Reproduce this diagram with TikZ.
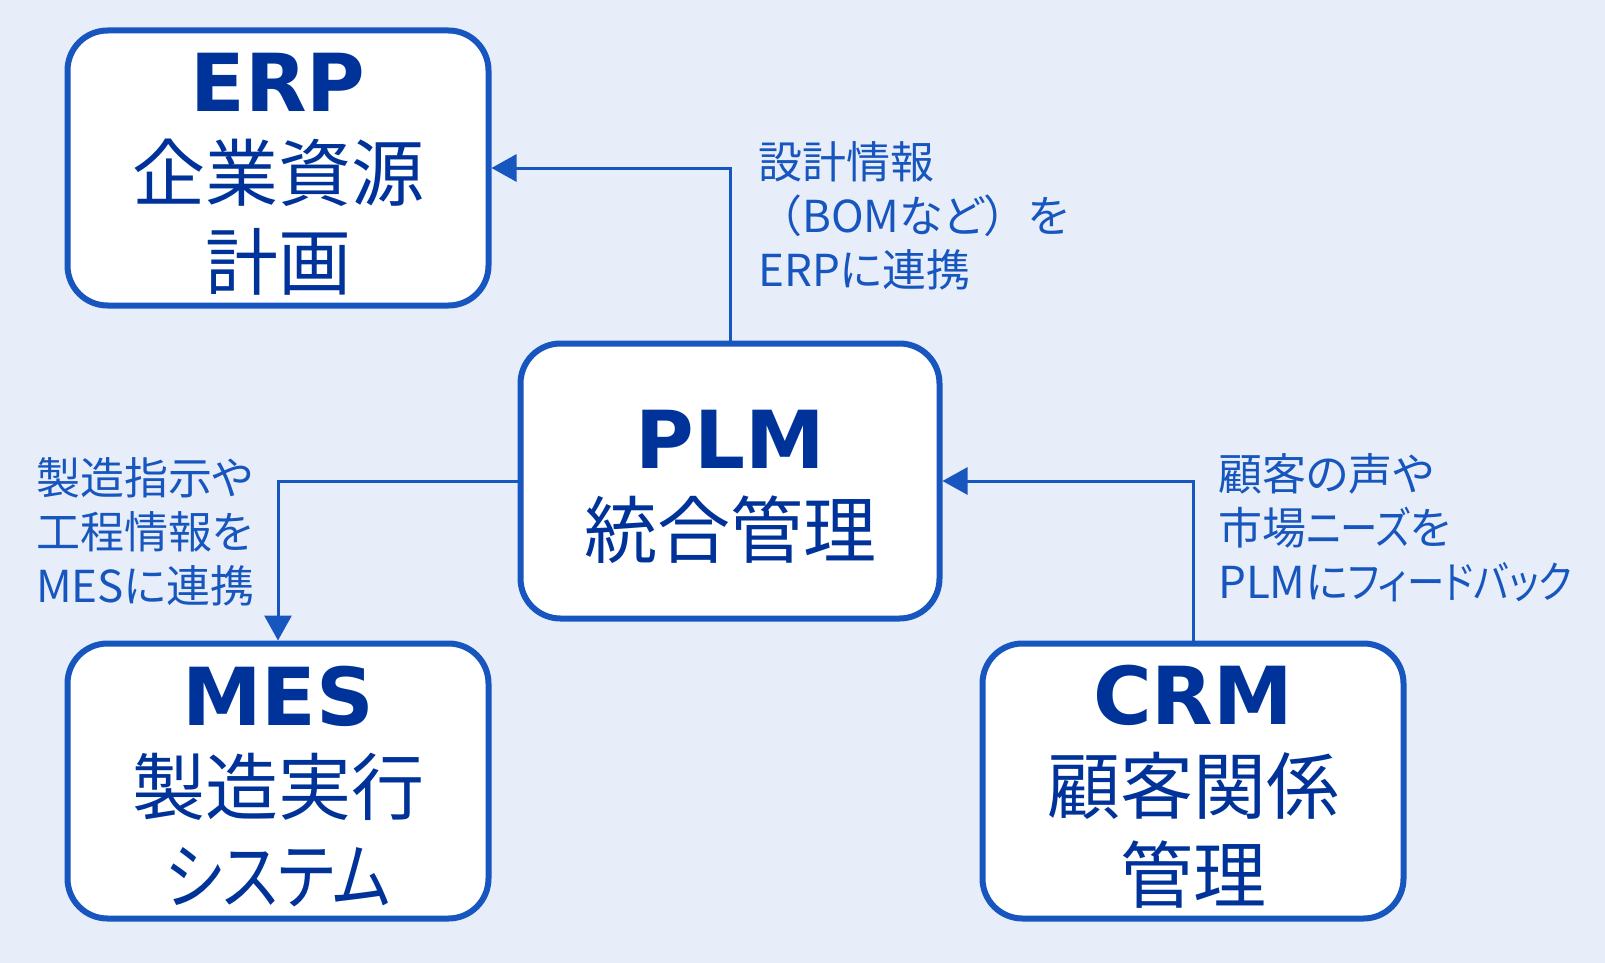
\documentclass[tikz,border=0pt]{standalone}
\usepackage{fontspec}
\usetikzlibrary{arrows.meta}
\setmainfont{Noto Sans CJK JP}[RawFeature=+palt]
\newfontfamily\jpfull{Noto Sans CJK JP}
\newfontfamily\katafont{Noto Sans CJK JP}[RawFeature=+palt, FakeStretch=0.85]
\newfontfamily\ttlfont{DejaVu Sans Bold}
\definecolor{bgc}{HTML}{E7EEF9}
\definecolor{linec}{HTML}{1756BE}
\definecolor{boxtext}{HTML}{003399}
\newcommand{\ttl}[1]{{\ttlfont\fontsize{80}{88}\selectfont\rule{0pt}{70pt}#1}}
\newcommand{\kata}[1]{{\katafont #1}}
\begin{document}
\begin{tikzpicture}[x=1pt,y=-1pt,
  sysbox/.style={draw=linec, line width=6pt, fill=white, rounded corners=40pt,
    minimum width=421pt, minimum height=275pt, inner sep=0pt, align=center,
    text=boxtext, font=\fontsize{73}{89}\selectfont},
  lbl/.style={text=linec, align=left, inner sep=0pt, anchor=north west,
    font=\fontsize{44}{54}\selectfont},
  conn/.style={draw=linec, line width=3pt, -{Triangle[length=25pt,width=27pt]}}]
\fill[bgc] (0,0) rectangle (1605,963);
\useasboundingbox (0,0) rectangle (1605,963);
\node[sysbox] (erp) at (278,168) {\ttl{ERP}\\企業資源\\計画};
\node[sysbox, minimum width=419pt] (plm) at (730,481) {\ttl{PLM}\\統合管理};
\node[sysbox] (mes) at (278,781) {\ttl{MES}\\製造実行\\\kata{システム}};
\node[sysbox] (crm) at (1193,781) {\ttl{CRM}\\顧客関係\\管理};
\draw[conn] (plm.north) |- (erp.east);
\draw[conn] (plm.west) -| (mes.north);
\draw[conn] (crm.north) |- (plm.east);
\node[lbl] (l1) at (758,141) {設計情報\\{\jpfull （}BOMなど{\jpfull ）}を\\ERPに連携};
\node[lbl] (l2) at (36,457) {製造指示や\\工程情報を\\MESに連携};
\node[lbl] (l3) at (1218,453) {顧客の声や\\市場\kata{ニーズ}を\\PLMに\kata{フィードバック}};
\end{tikzpicture}
\end{document}
